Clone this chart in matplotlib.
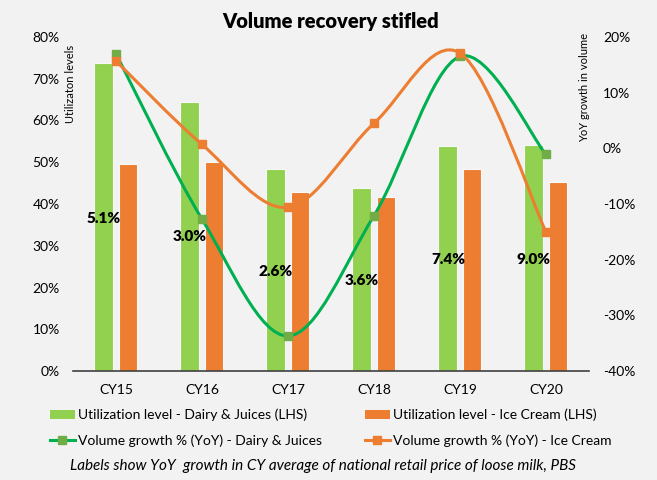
import numpy as np
import matplotlib
matplotlib.use('Agg')
import matplotlib.pyplot as plt
from matplotlib.path import Path
from matplotlib.patches import PathPatch
from matplotlib.lines import Line2D
from matplotlib.ticker import FuncFormatter

plt.rcParams['font.family'] = ['Lato', 'DejaVu Sans']

# categories
years = ['CY15', 'CY16', 'CY17', 'CY18', 'CY19', 'CY20']

# utilization levels (LHS, %)
util_dairy = [73.8, 64.5, 48.3, 43.8, 53.9, 54.1]
util_icecream = [49.6, 50.0, 42.8, 41.7, 48.5, 45.3]

# volume growth YoY (RHS, %)
growth_dairy = [17.0, -12.7, -33.7, -12.1, 16.5, -1.1]
growth_icecream = [15.7, 0.7, -10.6, 4.5, 17.1, -15.0]

# milk price growth labels
price_growth = [5.1, 3.0, 2.6, 3.6, 7.4, 9.0]

c_gbar = '#92d050'
c_obar = '#ed7d31'
c_gline = '#00b050'
c_gmark = '#70ad47'
c_oline = '#ed7d31'
bg = '#f2f2f2'


def smooth_path(xs, ys):
    # excel style smoothed line: cubic bezier through each point
    pts = list(zip(xs, ys))
    n = len(pts)
    verts = [pts[0]]
    codes = [Path.MOVETO]
    for i in range(n - 1):
        p0 = pts[max(i - 1, 0)]
        p1 = pts[i]
        p2 = pts[i + 1]
        p3 = pts[min(i + 2, n - 1)]
        c1 = (p1[0] + (p2[0] - p0[0]) / 6, p1[1] + (p2[1] - p0[1]) / 6)
        c2 = (p2[0] - (p3[0] - p1[0]) / 6, p2[1] - (p3[1] - p1[1]) / 6)
        verts += [c1, c2, p2]
        codes += [Path.CURVE4] * 3
    return Path(verts, codes)


fig = plt.figure(figsize=(6.57, 4.8), dpi=100, facecolor=bg)
ax = fig.add_axes([0.111, 0.227, 0.7855, 0.696])
ax.set_facecolor('none')
ax2 = ax.twinx()

x = np.arange(len(years))
w = 0.22
ax.bar(x - 0.14, util_dairy, w, color=c_gbar, edgecolor='#f8f8f8', lw=0.8)
ax.bar(x + 0.14, util_icecream, w, color=c_obar, edgecolor='#f8f8f8', lw=0.8)

ax.set_xlim(-0.5, len(years) - 0.5)
ax.set_ylim(0, 80)
ax.set_yticks(range(0, 81, 10))
ax.yaxis.set_major_formatter(FuncFormatter(lambda v, p: '%d%%' % v))
ax.set_xticks(x)
ax.set_xticklabels(years)
ax.tick_params(axis='y', length=0, pad=9.5, labelsize=10)
ax.tick_params(axis='x', length=0, pad=9, labelsize=10)

# labels on the bars
label_y = [36.6, 32.2, 23.8, 21.8, 26.8, 26.8]
for i, v in enumerate(price_growth):
    ax.text(x[i] - 0.14, label_y[i], '%.1f%%' % v, ha='center', va='center',
            fontsize=11, fontweight='heavy', color='black')

for s in ['top', 'left', 'right']:
    ax.spines[s].set_visible(False)
    ax2.spines[s].set_visible(False)
ax2.spines['bottom'].set_visible(False)
ax.spines['bottom'].set_color('#404040')
ax.spines['bottom'].set_linewidth(1.2)

# growth lines
ax2.set_ylim(-40, 20)
ax2.set_yticks(range(-40, 21, 10))
ax2.yaxis.set_major_formatter(FuncFormatter(lambda v, p: '%d%%' % v))
ax2.tick_params(axis='y', length=0, pad=10, labelsize=10)

ax2.add_patch(PathPatch(smooth_path(x, growth_dairy), fc='none', ec=c_gline, lw=2.2))
ax2.plot(x, growth_dairy, ls='none', marker='s', ms=6, mfc=c_gmark, mec=c_gmark)
ax2.add_patch(PathPatch(smooth_path(x, growth_icecream), fc='none', ec=c_oline, lw=2.2))
ax2.plot(x, growth_icecream, ls='none', marker='s', ms=6, mfc=c_oline, mec=c_oline)

fig.text(0.503, 0.956, 'Volume recovery stifled', ha='center', va='center',
         fontsize=14.5, fontweight='heavy')
fig.text(0.108, 1 - 45 / 480, 'Utilizaton levels', rotation=90, ha='center', va='top',
         fontsize=8)
fig.text(585 / 657, 1 - 33 / 480, 'YoY growth in volume', rotation=90, ha='center', va='top',
         fontsize=8)

handles = [
    plt.Rectangle((0, 0), 1, 1, fc=c_gbar),
    Line2D([], [], color=c_gline, lw=2.2, marker='s', ms=6, mfc=c_gmark, mec=c_gmark),
    plt.Rectangle((0, 0), 1, 1, fc=c_obar),
    Line2D([], [], color=c_oline, lw=2.2, marker='s', ms=6, mfc=c_oline, mec=c_oline),
]
labels = ['Utilization level - Dairy & Juices (LHS)',
          'Volume growth % (YoY) - Dairy & Juices',
          'Utilization level - Ice Cream (LHS)',
          'Volume growth % (YoY) - Ice Cream']
fig.legend(handles, labels, ncol=2, loc='center', bbox_to_anchor=(0.503, 1 - 428 / 480),
           frameon=False, fontsize=10, handlelength=1.8, handletextpad=0.2,
           columnspacing=3.1, labelspacing=0.95)

fig.text(0.492, 1 - 466 / 480,
         'Labels show YoY  growth in CY average of national retail price of loose milk, PBS',
         ha='center', va='center', fontsize=11, style='italic')

fig.savefig('out.png', dpi=100, facecolor=bg)
